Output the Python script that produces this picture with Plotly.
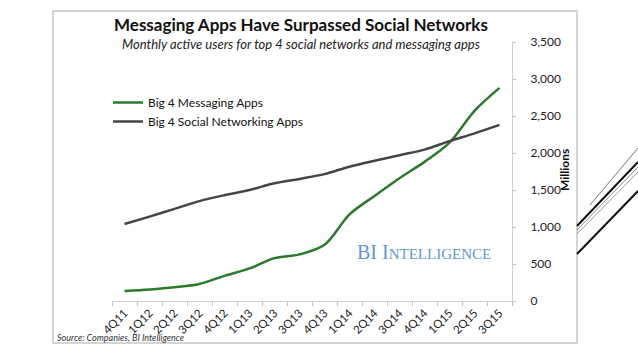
import plotly.graph_objects as go

quarters = ["4Q11", "1Q12", "2Q12", "3Q12", "4Q12", "1Q13", "2Q13", "3Q13",
            "4Q13", "1Q14", "2Q14", "3Q14", "4Q14", "1Q15", "2Q15", "3Q15"]
messaging = [135, 155, 185, 230, 340, 440, 580, 630, 760, 1170, 1420, 1660, 1880, 2140, 2570, 2880]
social = [1040, 1140, 1245, 1350, 1430, 1500, 1590, 1650, 1715, 1815, 1895, 1970, 2045, 2160, 2265, 2380]
y_ticks = [0, 500, 1000, 1500, 2000, 2500, 3000, 3500]

W, H = 638, 359
L, R, T, B = 112, 512, 42, 301

def px(x):
    return (x - L) / (R - L)

def py(y):
    return (B - y) / (B - T)

fig = go.Figure()
fig.add_trace(go.Scatter(x=quarters, y=messaging, name="Big 4 Messaging Apps",
                         mode="lines", line=dict(color="#2b7a2b", width=2.5, shape="spline", smoothing=0.9)))
fig.add_trace(go.Scatter(x=quarters, y=social, name="Big 4 Social Networking Apps",
                         mode="lines", line=dict(color="#454545", width=2.5, shape="spline", smoothing=0.9)))

font_main = "Lato, 'Open Sans', sans-serif"

fig.update_layout(
    width=W, height=H,
    margin=dict(l=L, r=W - R, t=T, b=H - B, pad=0, autoexpand=False),
    paper_bgcolor="white", plot_bgcolor="white",
    font=dict(family=font_main, color="#222"),
    showlegend=True,
    legend=dict(x=px(108), y=py(88), xanchor="left", yanchor="top",
                bgcolor="rgba(0,0,0,0)", font=dict(size=12, color="#111"),
                itemwidth=30, tracegroupgap=2),
    xaxis=dict(type="category", showgrid=False, showline=True, linecolor="#cfcfcf",
               ticks="outside", tickson="boundaries", ticklen=4, tickcolor="#bfbfbf",
               tickangle=-45, tickfont=dict(size=11.5, color="#222"),
               range=[-0.5, 15.5], zeroline=False, automargin=False),
    yaxis=dict(side="right", range=[0, 3500], tickvals=y_ticks, tickformat=",",
               showgrid=False, showline=True, linecolor="#cfcfcf", ticks="outside",
               ticklen=3, tickcolor="#bfbfbf", tickfont=dict(size=12, color="#222"),
               ticklabelstandoff=12, zeroline=False, automargin=False),
)

# chart frame
fig.add_shape(type="rect", xref="paper", yref="paper",
              x0=px(53), x1=px(577), y0=py(343), y1=py(11),
              line=dict(color="#c8c8c8", width=1.5), layer="above")

# decorative slide lines on the right
deco = [
    (590, 205, 638, 148, "#777", 1),
    (577, 226, 638, 162, "#111", 2),
    (577, 230, 638, 167, "#888", 1),
    (577, 234, 638, 172, "#999", 1),
    (577, 254, 638, 191, "#111", 2),
]
for x0, y0, x1, y1, c, w in deco:
    fig.add_shape(type="line", xref="paper", yref="paper",
                  x0=px(x0), y0=py(y0), x1=px(x1), y1=py(y1),
                  line=dict(color=c, width=w))

def ann(text, x, y, size, color="#111", family=font_main, xanchor="center", angle=0):
    fig.add_annotation(text=text, x=px(x), y=py(y), xref="paper", yref="paper",
                       showarrow=False, xanchor=xanchor, yanchor="middle",
                       textangle=angle, font=dict(size=size, color=color, family=family))

ann("<b>Messaging Apps Have Surpassed Social Networks</b>", 301, 25, 17)
ann("<i>Monthly active users for top 4 social networks and messaging apps</i>", 301, 44, 13, "#222")
ann("<b>Millions</b>", 564, 170, 12, angle=-90)
ann("<i>Source: Companies, BI Intelligence</i>", 55, 337, 9, "#333", xanchor="left")
ann("BI I<span style='font-size:15px'>NTELLIGENCE</span>", 424, 252, 20, "#5f98d3",
    family="'Liberation Serif', 'DejaVu Serif', serif")

fig.write_html("out.html", config={"displayModeBar": False},
               post_script="document.body.style.margin='0';document.body.style.padding='0';")
